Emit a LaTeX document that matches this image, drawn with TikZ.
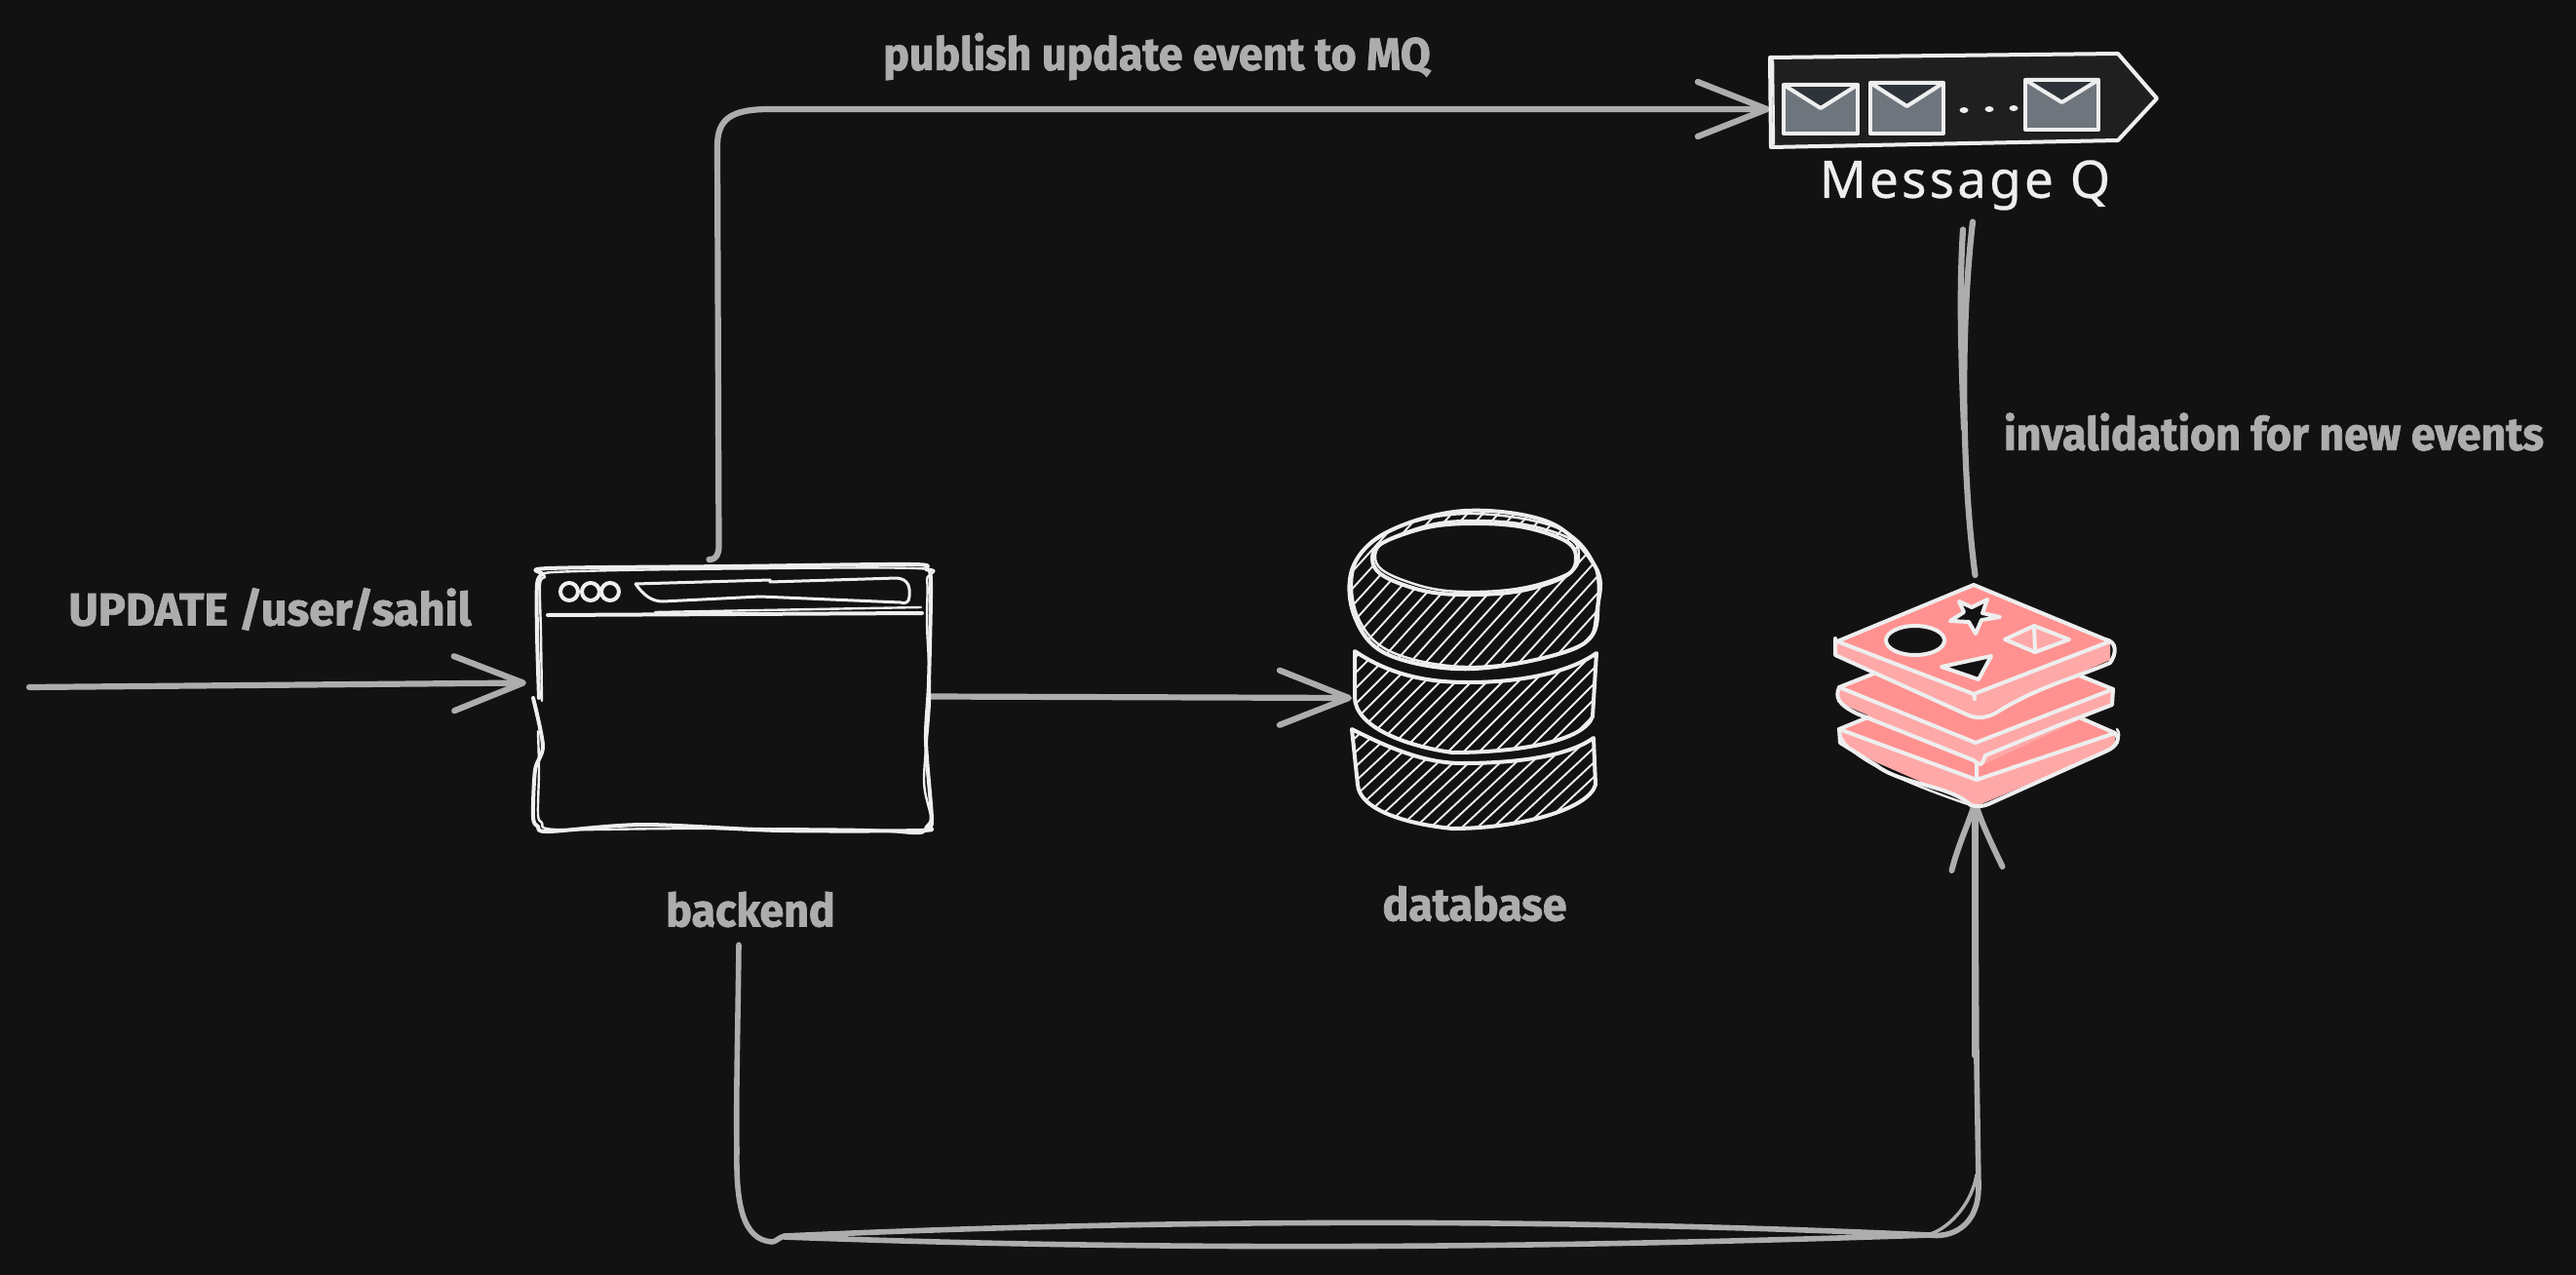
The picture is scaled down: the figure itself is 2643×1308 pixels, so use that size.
\documentclass[tikz,border=0pt]{standalone}
\usepackage{fontspec}
\usetikzlibrary{arrows.meta,calc}
\newfontfamily\lblfont{Fira Sans}[BoldFont=* Bold,FakeStretch=0.95,FakeBold=1.6]
\newfontfamily\handfont{Noto Sans}[LetterSpace=6,FakeBold=0.6]
\definecolor{bg}{HTML}{121212}
\definecolor{conn}{HTML}{ADADAD}
\definecolor{ink}{HTML}{EEEEEE}
\definecolor{slabtop}{HTML}{FF9290}
\definecolor{slabside}{HTML}{FFA8A8}
\definecolor{envbody}{HTML}{6E757C}
\definecolor{envflap}{HTML}{2D3338}
\definecolor{qfill}{HTML}{1F1F1F}
\tikzset{
  x=1pt,y=-1pt,
  anchorbox/.style={inner sep=0pt,outer sep=0pt,draw=none},
  connline/.style={draw=conn,line width=6.2pt,line cap=round,line join=round},
  barb/.style={-{Straight Barb[length=71pt,width=56pt,round]}},
  sk/.style={draw=ink,line width=4pt,line cap=round,line join=round},
  skthin/.style={draw=ink,line width=2.4pt,line cap=round,line join=round},
  hatch/.style={draw=ink,line width=1.9pt,line cap=round},
  lbl/.style={anchorbox,text=conn,font=\lblfont\bfseries\fontsize{47}{50}\selectfont},
  hand/.style={anchorbox,text=ink,font=\handfont\fontsize{53}{56}\selectfont},
  env/.style={sk,fill=envbody},
  flap/.style={sk,fill=envflap},
}
\newcommand{\envelope}[5]{% x0 y0 x1 y1 foldy
  \path[env] (#1,#3) -- (#2,#3) -- (#2,#4) -- (#1,#4) -- cycle;
  \path[flap] (#1,#3) -- (#2,#3) -- ({(#1+#2)/2},#5) -- cycle;
}
\def\dbone{plot[smooth cycle,tension=.6] coordinates {(1388,582)(1425,545)(1503,524)(1590,536)(1636,580)(1640,617)(1622,662)(1513,686)(1425,672)(1390,633)}}
\def\dbtwo{(1390,668) .. controls (1430,695) and (1470,700) .. (1507,700) .. controls (1560,700) and (1610,690) .. (1638,670) -- (1634,735) .. controls (1625,760) and (1560,772) .. (1490,772) .. controls (1440,765) and (1390,745) .. (1390,715) -- cycle}
\def\dbthree{(1387,748) .. controls (1430,770) and (1465,783) .. (1500,783) .. controls (1560,783) and (1610,775) .. (1635,757) -- (1637,805) .. controls (1630,830) and (1560,850) .. (1490,850) .. controls (1440,845) and (1395,830) .. (1393,805) -- cycle}
\begin{document}
\begin{tikzpicture}
\useasboundingbox (0,0) rectangle (2643,1308);
\fill[bg] (0,0) rectangle (2643,1308);

% anchors for the sketched shapes
\node[anchorbox,minimum width=415pt,minimum height=271pt] (backend) at (747.5,717.5) {};
\node[anchorbox,minimum width=255pt,minimum height=326pt] (db) at (1514.5,687) {};
\node[anchorbox,minimum width=397pt,minimum height=96pt] (mq) at (2014.5,103) {};
\node[anchorbox,minimum width=287pt,minimum height=223pt] (redis) at (2026.5,711.5) {};
\coordinate (inflow) at (30,705);

% labels
\node[lbl] (lblpublish) at (1187,58) {publish update event to MQ};
\node[lbl,transform shape,xscale=1.047] (lblupdate) at (277,625) {UPDATE /user/sahil};
\node[lbl] (lblbackend) at (770,933) {backend};
\node[lbl] (lbldb) at (1513,927) {database};
\node[lbl] (lblinval) at (2333,443) {invalidation for new events};
\node[hand] (lblmq) at (2016,190) {Message Q};

% connectors
\draw[connline,barb] (inflow) -- ([yshift=17pt]backend.west);
\draw[connline,barb] ([yshift=3pt]backend.east) -- ([yshift=-29pt]db.west);
\draw[connline,barb] ([shift={(-20pt,8pt)}]backend.north) .. controls +(8,0) and +(0,8) .. +(10,-14) -- (736,150) .. controls (736,122) and (750,112) .. (790,112) -- ([yshift=-9pt]mq.west);
\draw[connline] ([yshift=10pt]redis.north) .. controls (2012,480) and (2012,330) .. ([shift={(8pt,-12pt)}]lblmq.south);
\draw[connline] (2015,440) .. controls (2012,360) and (2010,300) .. ([shift={(-2pt,-20pt)}]lblmq.south);
\draw[connline,line width=5.6pt]
  ([shift={(-12pt,-18pt)}]lblbackend.south) .. controls (757,1060) and (755,1130) .. (756,1180)
  .. controls (755,1235) and (762,1272) .. (792,1274) .. controls (796,1274) and (798,1270) .. (805,1268)
  .. controls (1200,1250) and (1600,1250) .. (1980,1267)
  .. controls (1600,1280) and (1200,1284) .. (805,1269)
  (1980,1267) .. controls (2000,1270) and (2031,1260) .. (2030,1215) -- (2028,1090) -- (redis.south);
\draw[connline,line width=3.4pt] (1980,1266) .. controls (1995,1262) and (2022,1240) .. (2028,1205);
\draw[connline] (redis.south) -- +(0,260);
\draw[connline,line width=6pt] (redis.south) .. controls +(-6,20) and +(6,-25) .. +(-24,70);
\draw[connline,line width=6pt] (redis.south) .. controls +(6,20) and +(-12,-25) .. +(28,66);

% backend window
\path[sk] plot[smooth,tension=.5] coordinates {(553,716)(551,650)(551,600)(556,589)(563,583)(750,581)(935,579)(950,584)(955,596)(953,700)(950,760)(956,840)(952,848)(945,852)(800,852)(660,846)(563,853)(552,848)(547,838)(549,790)(557,765)(547,716)};
\path[skthin] plot[smooth,tension=.5] coordinates {(556,719)(555,650)(554,600)(559,592)(568,587)(700,584)(940,583)(951,595)(951,640)(954,716)(948,800)(955,838)(950,848)(942,855)(880,851)(700,850)(570,851)(556,844)(552,835)(553,790)(552,750)};
\foreach \cx in {584,606,626} \draw[sk] (\cx,607) circle[radius=9];
\path[sk,line width=3pt] (652,599) -- (790,595) -- (790,597) -- (920,593) .. controls (932,594) and (934,602) .. (933,612) .. controls (933,618) and (928,620) .. (924,618) -- (780,612) -- (680,617) .. controls (668,617) and (660,610) .. (652,599);
\path[sk] (562,631) -- (946,629);
\path[skthin] (672,628) -- (945,623);

% database
\begin{scope}\clip \dbone;
  \foreach \c in {0,16,...,390} \draw[hatch] (1250+\c,720) -- (1250+\c+200,500);
\end{scope}
\begin{scope}\clip \dbtwo;
  \foreach \c in {0,16,...,390} \draw[hatch] (1265+\c,800) -- (1265+\c+160,640);
\end{scope}
\begin{scope}\clip \dbthree;
  \foreach \c in {0,16,...,390} \draw[hatch] (1280+\c,860) -- (1280+\c+150,720);
\end{scope}
\path[fill=bg] plot[smooth cycle,tension=.8] coordinates {(1408,573)(1440,548)(1513,537)(1590,548)(1617,573)(1590,598)(1513,610)(1440,600)};
\path[sk] plot[smooth cycle,tension=.8] coordinates {(1408,573)(1440,548)(1513,537)(1590,548)(1617,573)(1590,598)(1513,610)(1440,600)};
\path[skthin] plot[smooth cycle,tension=.8] coordinates {(1411,570)(1445,545)(1515,534)(1595,546)(1620,570)(1595,594)(1515,607)(1442,596)};
\path[sk] \dbone;
\path[skthin] plot[smooth cycle,tension=.6] coordinates {(1391,577)(1428,543)(1505,527)(1594,540)(1634,575)(1638,625)(1618,665)(1513,684)(1428,669)(1392,630)};
\path[sk] \dbtwo;
\path[sk] \dbthree;

% redis stack (bottom to top)
\path[fill=slabside] (1887,748) -- (2028,800) -- (2170,752) -- (2170,767) -- (2028,827) -- (1925,782) -- (1888,762) -- cycle;
\path[fill=slabtop] (1887,748) -- (2028,690) -- (2170,752) -- (2028,800) -- cycle;
\path[sk] (1887,748) -- (2028,690) (2028,690) -- (2170,752) -- (2028,800) -- cycle (1887,748) -- (2028,800);
\path[sk] (2170,752) .. controls (2176,758) and (2172,766) .. (2160,771) -- (2040,825) .. controls (2035,827) and (2030,828) .. (2022,826) .. controls (2000,805) and (1950,805) .. (1925,785) -- (1888,762) -- (1887,748);
\path[skthin] (2172,748) .. controls (2178,755) and (2172,768) .. (2150,776) (1888,752) .. controls (1890,770) and (1930,795) .. (2022,826);
\path[fill=slabside] (1887,705) -- (2027,762) -- (2168,707) -- (2167,723) -- (2033,785) -- (1885,720) -- cycle;
\path[fill=slabtop] (1887,705) -- (2027,650) -- (2168,707) -- (2027,762) -- cycle;
\path[sk] (1887,705) -- (2027,762) -- (2168,707) -- (2027,650) -- cycle;
\path[sk] (2168,707) -- (2167,723) -- (2110,745) (1887,705) .. controls (1883,715) and (1885,722) .. (1905,732) -- (2025,780) .. controls (2033,787) and (2033,785) .. (2037,775) -- (2110,745);
\path[fill=slabside] (1885,658) -- (2025,712) -- (2165,658) -- (2165,677) -- (2027,737) -- (1883,672) -- cycle;
\path[fill=slabtop] (1885,658) -- (2025,600) -- (2165,658) -- (2025,712) -- cycle;
\path[sk] (1885,658) -- (2025,600) -- (2165,658) -- (2025,712) -- cycle;
\path[sk] (2025,712) -- (2026,717) (1883,655) -- (1883,672) -- (2020,734) .. controls (2030,738) and (2040,736) .. (2050,730) .. controls (2090,705) and (2130,695) .. (2165,680) .. controls (2172,670) and (2172,658) .. (2160,656);
\path[sk,fill=bg] (1965,657) ellipse[x radius=30,y radius=15];
\path[sk,fill=bg] (2010,617) -- (2023,623) -- (2039,615) -- (2034,629) -- (2052,633) -- (2033,636) -- (2027,650) -- (2020,638) -- (2001,637) -- (2015,628) -- cycle;
\path[sk,fill=bg] (1992,684) -- (2043,673) -- (2030,697) -- cycle;
\path[sk,fill=slabside] (2057,656) -- (2087,642) -- (2123,656) -- (2088,669) -- cycle;
\path[sk] (2087,642) -- (2088,669);

% message queue
\path[sk,fill=qfill] (1816,59) -- (2173,55) -- (2213,101) -- (2173,144) -- (1817,151) -- cycle;
\path[skthin] (1819,62) -- (1820,148);
\envelope{1830}{1906}{87}{137}{111}
\envelope{1919}{1994}{85}{137}{109}
\envelope{2078}{2153}{82}{133}{105}
\foreach \dx/\dy in {2015/113,2041/112,2066/111} \fill[ink] (\dx,\dy) ellipse[x radius=4.5,y radius=3];
\end{tikzpicture}
\end{document}
